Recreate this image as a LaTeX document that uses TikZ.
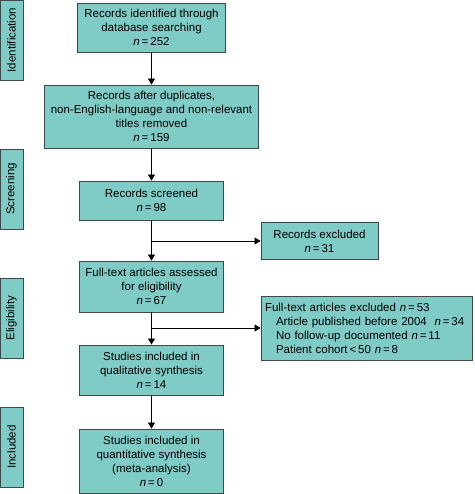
\documentclass[tikz,border=0pt]{standalone}
\usepackage{fontspec}
\setmainfont{Liberation Sans}
\usetikzlibrary{arrows.meta}
\definecolor{boxfill}{HTML}{7FCBC6}
\definecolor{boxline}{HTML}{3C4A4A}
\begin{document}
\begin{tikzpicture}[x=1pt,y=-1pt,
  box/.style={draw=boxline,fill=boxfill,line width=0.9pt,inner sep=2pt,align=center,
    font=\fontsize{11.5}{14}\selectfont},
  side/.style={draw=boxline,fill=boxfill,line width=0.9pt,minimum width=80pt,minimum height=23pt,
    inner sep=0pt,rotate=90,font=\fontsize{11.5}{14}\selectfont},
  conn/.style={line width=0.8pt,black},
  arr/.style={conn,-{Triangle[length=6pt,width=7pt]}}]
\useasboundingbox (0,0) rectangle (474,494);
\newcommand{\nn}{\textit{n}\,=\,}
% side labels
\node[side] (sid) at (11.5,40) {Identification};
\node[side] (ssc) at (11.5,189) {Screening};
\node[side] (sel) at (11.5,318) {Eligibility};
\node[side] (sin) at (11.5,447) {Included};
% main boxes
\node[box,minimum width=148pt,minimum height=49pt] (b1) at (151.5,27.5)
  {Records identified through\\database searching\\\nn252};
\node[box,minimum width=214pt,minimum height=63pt] (b2) at (151.5,116.5)
  {Records after duplicates,\\non-English-language and non-relevant\\titles removed\\\nn159};
\node[box,minimum width=144pt,minimum height=39pt] (b3) at (151.5,200.5)
  {Records screened\\\nn98};
\node[box,minimum width=144pt,minimum height=51pt] (b4) at (151.5,286.5)
  {Full-text articles assessed\\for eligibility\\\nn67};
\node[box,minimum width=144pt,minimum height=50pt] (b5) at (151.5,370)
  {Studies included in\\qualitative synthesis\\\nn14};
\node[box,minimum width=144pt,minimum height=64pt] (b6) at (151.5,461)
  {Studies included in\\quantitative synthesis\\(meta-analysis)\\\nn0};
\node[box,minimum width=117pt,minimum height=37pt] (e1) at (319.5,241)
  {Records excluded\\\nn31};
\node[box,minimum width=211pt,minimum height=64pt,align=left,text width=203pt] (e2) at (366.5,328)
  {Full-text articles excluded \nn53\\
   \hspace*{11pt}Article published before 2004\ \ \nn34\\
   \hspace*{11pt}No follow-up documented \nn11\\
   \hspace*{11pt}Patient cohort\,<\,50 \nn8};
% connectors
\draw[arr] (b1.south) -- (b2.north);
\draw[arr] (b2.south) -- (b3.north);
\draw[arr] (b3.south) -- (b4.north);
\draw[arr] (b4.south) -- (b5.north);
\draw[arr] (b5.south) -- (b6.north);
\coordinate (j1) at (151.5,241);
\coordinate (j2) at (151.5,328);
\draw[arr] (j1) -- (e1.west);
\draw[arr] (j2) -- (e2.west);
\end{tikzpicture}
\end{document}
